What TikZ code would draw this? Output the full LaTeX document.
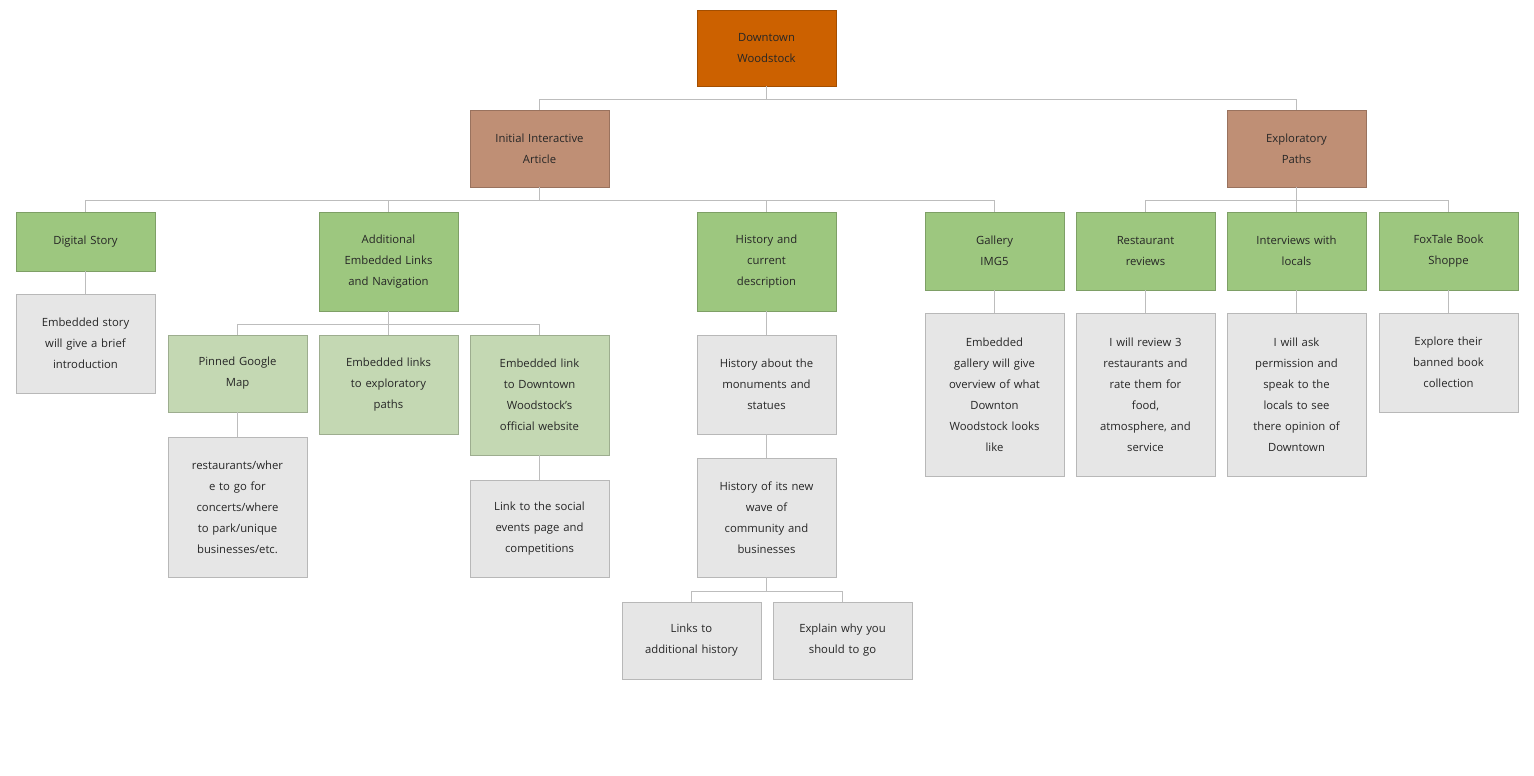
\documentclass[tikz,border=0pt]{standalone}
\usepackage{fontspec}
\setmainfont{Open Sans}
\definecolor{cRoot}{HTML}{CC6100}
\definecolor{cMid}{HTML}{BF8F75}
\definecolor{cGreen}{HTML}{9DC77F}
\definecolor{cLGreen}{HTML}{C4D8B3}
\definecolor{cGray}{HTML}{E6E6E6}
\definecolor{cLine}{HTML}{BDBDBD}
\begin{document}
\begin{tikzpicture}[x=1pt,y=-1pt,
  bx/.style={draw=#1!80!black,fill=#1,line width=0.8pt,inner sep=0pt,align=center,
    font=\fontsize{11.3}{21}\selectfont,text=black!85},
  ln/.style={draw=cLine,line width=1.1pt}]
\useasboundingbox[fill=white] (0,0) rectangle (1534,776);
\newcommand\bx[7]{\node[bx=#6,minimum width=#3-#1,minimum height=#4-#2,text width=#3-#1-10] (#5) at ({(#1+#3)/2},{(#2+#4)/2}) {#7};}
\bx{697}{10}{836}{86}{root}{cRoot}{Downtown\\Woodstock}
\bx{470}{110}{609}{187}{ini}{cMid}{Initial Interactive\\Article}
\bx{1227}{110}{1366}{187}{exp}{cMid}{Exploratory\\Paths}
\bx{16}{212}{155}{271}{dig}{cGreen}{Digital Story}
\bx{319}{212}{458}{311}{add}{cGreen}{Additional\\Embedded Links\\and Navigation}
\bx{697}{212}{836}{311}{his}{cGreen}{History and\\current\\description}
\bx{925}{212}{1064}{290}{gal}{cGreen}{Gallery\\IMG5}
\bx{1076}{212}{1215}{290}{res}{cGreen}{Restaurant\\reviews}
\bx{1227}{212}{1366}{290}{int}{cGreen}{Interviews with\\locals}
\bx{1379}{212}{1518}{290}{fox}{cGreen}{FoxTale Book\\Shoppe}
\bx{16}{294}{155}{393}{es}{cGray}{Embedded story\\will give a brief\\introduction}
\bx{168}{335}{307}{412}{pin}{cLGreen}{Pinned Google\\Map}
\bx{319}{335}{458}{434}{el}{cLGreen}{Embedded links\\to exploratory\\paths}
\bx{470}{335}{609}{455}{eld}{cLGreen}{Embedded link\\to Downtown\\Woodstock's\\official website}
\bx{168}{437}{307}{577}{rw}{cGray}{restaurants/wher\\e to go for\\concerts/where\\to park/unique\\businesses/etc.}
\bx{470}{480}{609}{577}{soc}{cGray}{Link to the social\\events page and\\competitions}
\bx{697}{335}{836}{434}{mon}{cGray}{History about the\\monuments and\\statues}
\bx{697}{458}{836}{577}{wave}{cGray}{History of its new\\wave of\\community and\\businesses}
\bx{622}{602}{761}{679}{lk}{cGray}{Links to\\additional history}
\bx{773}{602}{912}{679}{why}{cGray}{Explain why you\\should to go}
\bx{925}{313}{1064}{476}{eg}{cGray}{Embedded\\gallery will give\\overview of what\\Downton\\Woodstock looks\\like}
\bx{1076}{313}{1215}{476}{rev}{cGray}{I will review 3\\restaurants and\\rate them for\\food,\\atmosphere, and\\service}
\bx{1227}{313}{1366}{476}{ask}{cGray}{I will ask\\permission and\\speak to the\\locals to see\\there opinion of\\Downtown}
\bx{1379}{313}{1518}{412}{ban}{cGray}{Explore their\\banned book\\collection}
\begin{scope}[on background layer/.style={}]
\draw[ln] (root.south) -- ++(0,13) -| (ini.north);
\draw[ln] (root.south) ++(0,13) -| (exp.north);
\foreach \c in {dig,add,his,gal}{\draw[ln] (ini.south) -- ++(0,13) -| (\c.north);}
\foreach \c in {res,int,fox}{\draw[ln] (exp.south) -- ++(0,13) -| (\c.north);}
\foreach \c in {pin,el,eld}{\draw[ln] (add.south) -- ++(0,13) -| (\c.north);}
\foreach \c in {lk,why}{\draw[ln] (wave.south) -- ++(0,14) -| (\c.north);}
\draw[ln] (dig) -- (es); \draw[ln] (pin) -- (rw); \draw[ln] (eld) -- (soc);
\draw[ln] (his) -- (mon); \draw[ln] (mon) -- (wave);
\draw[ln] (gal) -- (eg); \draw[ln] (res) -- (rev); \draw[ln] (int) -- (ask); \draw[ln] (fox) -- (ban);
\end{scope}
\end{tikzpicture}
\end{document}
